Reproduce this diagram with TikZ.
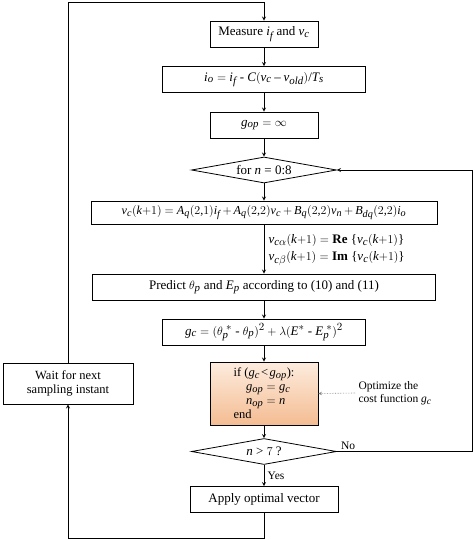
\documentclass[tikz,border=0pt]{standalone}
\usepackage{fontspec}
\setmainfont{Liberation Serif}
\usepackage[italic]{mathastext}
\usetikzlibrary{shapes.geometric}

\definecolor{peachtop}{RGB}{253,236,222}
\definecolor{peachbot}{RGB}{244,188,146}

\tikzstyle{process} = [rectangle, draw, line width=0.8pt, minimum height=26pt,
inner sep=2pt, font=\fontsize{13}{15}\selectfont]
\tikzstyle{decision} = [diamond, draw, line width=0.8pt, aspect=5.6, inner sep=0pt,
minimum width=145pt, minimum height=26pt, font=\fontsize{13}{15}\selectfont]
\tikzstyle{optimize} = [rectangle, draw, line width=0.8pt, top color=peachtop,
bottom color=peachbot, minimum width=108pt, minimum height=63pt, align=left,
font=\fontsize{12.5}{14}\selectfont]
\tikzstyle{remark} = [align=left, font=\fontsize{11.5}{13}\selectfont]
\tikzstyle{arrow} = [line width=0.8pt,->,>=stealth,draw]

\begin{document}
\begin{tikzpicture}[x=1pt, y=-1pt]
	\useasboundingbox (0,0) rectangle (474,540);
	%nodes for the main loop
	\node[process, minimum width=108pt](measure) at (264,34){Measure $i_f$ and $v_c$};
	\node[process, minimum width=203pt, below of=measure, node distance=45.5pt](io){$i_o = i_f$ - $C(v_c - v_{old})/T_s$};
	\node[process, minimum width=108pt, below of=io, node distance=45.5pt](gop){$g_{op} = \infty$};
	\node[decision, below of=gop, node distance=45pt](forn){for $n$ = 0:8};
	\node[process, minimum width=346pt, minimum height=23pt, below of=forn, node distance=42.5pt,
	  font=\fontsize{12.2}{14}\selectfont](vc){\medmuskip=3mu\thickmuskip=4.5mu$v_c(k{+}1) = A_q(2{,}1)i_f + A_q(2{,}2)v_c + B_q(2{,}2)v_n + B_{dq}(2{,}2)i_o$};
	\node[process, minimum width=343pt, below of=vc, node distance=74.5pt](predict){Predict $\theta_p$ and $E_p$ according to (10) and (11)};
	\node[process, minimum width=203pt, below of=predict, node distance=45pt](gc){$g_c = (\theta_p^{\;*}$ - $\theta_p)^2 + \lambda(E^{*}$ - $E_p^{\;*})^2$};
	\node[optimize, below of=gc, node distance=61.5pt](ifbox){\thickmuskip=2mu if ($g_c < g_{op}$):\\ \quad$g_{op} = g_c$\\ \quad$n_{op} = n$\\ end};
	\node[decision, below of=ifbox, node distance=58pt](nseven){$n > 7$ ?};
	\node[process, minimum width=148pt, below of=nseven, node distance=48pt](apply){Apply optimal vector};
	%nodes on the side
	\node[process, minimum width=130pt, minimum height=41pt, align=center,
	  font=\fontsize{12.5}{14.5}\selectfont](wait) at (68,383.5){Wait for next\\ sampling instant};
	\node[remark, anchor=west, font=\fontsize{13}{17}\selectfont](vclbl) at (265,250){$v_{c\alpha}(k{+}1) = \textbf{Re}\ \{v_c(k{+}1)\}$\\ $v_{c\beta}(k{+}1) = \textbf{Im}\ \{v_c(k{+}1)\}$};
	\node[remark, anchor=west](note) at (355,393){Optimize the\\ cost function $g_c$};
	\coordinate (topc) at (264,2);
	\coordinate (botc) at (68,538);
	\coordinate (rightc) at (472,450);

	%edges
	\path[arrow] (wait.north) |- (topc) -- (measure.north);
	\path[arrow] (measure) -- (io);
	\path[arrow] (io) -- (gop);
	\path[arrow] (gop) -- (forn);
	\path[arrow] (forn) -- (vc);
	\path[arrow] (vc) -- (predict);
	\path[arrow] (predict) -- (gc);
	\path[arrow] (gc) -- (ifbox);
	\path[arrow] (ifbox) -- (nseven);
	\path[arrow] (nseven) -- (apply) node[midway, right, remark]{Yes};
	\path[arrow] (nseven.east) -- (nseven.east -| rightc) node[pos=0.02, above right, remark, inner sep=1pt]{No} |- (forn.east);
	\path[arrow] (apply.south) |- (botc) -- (wait.south);
	\draw[->, >=stealth, gray, densely dotted, line width=0.6pt] (note.west) -- (ifbox.east);
\end{tikzpicture}
\end{document}
